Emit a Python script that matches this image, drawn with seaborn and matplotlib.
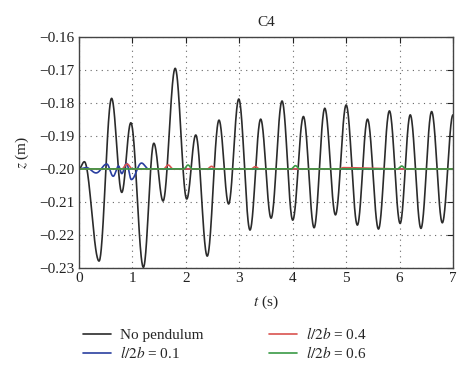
import numpy as np
import pandas as pd
import matplotlib
matplotlib.use("Agg")
import matplotlib.pyplot as plt
import seaborn as sns

# ---- data (key points: times of extrema and their z values) ----
t_none = [0.0, 0.10, 0.375, 0.61, 0.80, 0.97, 1.205, 1.40, 1.573, 1.80, 2.016, 2.185,
          2.40, 2.62, 2.80, 2.99, 3.20, 3.40, 3.595, 3.80, 4.00, 4.20, 4.40, 4.60,
          4.80, 5.00, 5.21, 5.40, 5.605, 5.81, 6.01, 6.20, 6.40, 6.60, 6.80, 7.00]
z_none = [-0.2000, -0.1978, -0.2279, -0.1786, -0.2071, -0.1860, -0.2298, -0.1922,
          -0.2097, -0.1695, -0.2091, -0.1897, -0.2264, -0.1852, -0.2106, -0.1788,
          -0.2185, -0.1849, -0.2149, -0.1794, -0.2155, -0.1841, -0.2178, -0.1816,
          -0.2139, -0.1806, -0.2170, -0.1849, -0.2182, -0.1824, -0.2165, -0.1836,
          -0.2180, -0.1826, -0.2163, -0.1836]

t_01 = [0.0, 0.14, 0.32, 0.52, 0.64, 0.74, 0.80, 0.89, 0.98, 1.17, 1.30, 7.0]
z_01 = [-0.2000, -0.1996, -0.2012, -0.1985, -0.2022, -0.1991, -0.2014, -0.1983,
        -0.2032, -0.1982, -0.2000, -0.2000]

t_04 = [0.0, 0.80, 0.90, 1.00, 1.58, 1.67, 1.76, 2.40, 2.48, 2.56, 3.22, 3.30, 3.38,
        4.86, 4.95, 5.60, 6.00, 7.0]
z_04 = [-0.2000, -0.2000, -0.1985, -0.2000, -0.2000, -0.1988, -0.2000, -0.2000,
        -0.1992, -0.2000, -0.2000, -0.1993, -0.2000, -0.2000, -0.1996, -0.1998,
        -0.2000, -0.2000]

t_06 = [0.0, 1.96, 2.04, 2.12, 3.97, 4.05, 4.13, 5.96, 6.04, 6.12, 7.0]
z_06 = [-0.2000, -0.2000, -0.1988, -0.2000, -0.2000, -0.1990, -0.2000, -0.2000,
        -0.1991, -0.2000, -0.2000]

labels = ["No pendulum", r"$l/2b$ = 0.1", r"$l/2b$ = 0.4", r"$l/2b$ = 0.6"]
colors = ["#2b2b2b", "#2a3fa0", "#d9534f", "#3a9a45"]
x_ticks = [0, 1, 2, 3, 4, 5, 6, 7]
y_ticks = [-0.16, -0.17, -0.18, -0.19, -0.20, -0.21, -0.22, -0.23]


def smooth(tk, zk, n=40):
    ts, zs = [], []
    for i in range(len(tk) - 1):
        s = np.linspace(0, 1, n, endpoint=False)
        ts.append(tk[i] + (tk[i + 1] - tk[i]) * s)
        zs.append(zk[i] + (zk[i + 1] - zk[i]) * (1 - np.cos(np.pi * s)) / 2)
    ts.append([tk[-1]]); zs.append([zk[-1]])
    return np.concatenate(ts), np.concatenate(zs)


frames = []
for (tk, zk), lab in zip([(t_none, z_none), (t_01, z_01), (t_04, z_04), (t_06, z_06)], labels):
    tt, zz = smooth(tk, zk)
    frames.append(pd.DataFrame({"t": tt, "z": zz, "series": lab}))
df = pd.concat(frames, ignore_index=True)

sns.set_style("white")
plt.rcParams["font.family"] = ["Liberation Serif", "DejaVu Serif"]
plt.rcParams["mathtext.fontset"] = "stix"

fs = 11
fig = plt.figure(figsize=(4.74, 3.79), dpi=100)
ax = fig.add_axes([0.1667, 0.2929, 0.7890, 0.6095])

sns.lineplot(data=df, x="t", y="z", hue="series", hue_order=labels,
             palette=dict(zip(labels, colors)), sort=False, estimator=None,
             linewidth=1.2, ax=ax)

ax.set_xlim(0, 7)
ax.set_ylim(-0.23, -0.16)
ax.set_xticks(x_ticks)
ax.set_yticks(y_ticks)
ax.set_yticklabels([f"\u2212{abs(v):.2f}" for v in y_ticks])
ax.grid(True, linestyle=(0, (1, 4)), color="#666666", linewidth=0.8)
ax.tick_params(direction="in", top=True, right=True, length=4, labelsize=fs,
               colors="#222222", pad=3)
for sp in ax.spines.values():
    sp.set_color("#444444")
    sp.set_linewidth(1.0)

ax.set_title("C4", fontsize=fs, pad=8)
ax.set_xlabel(r"$t$ (s)", fontsize=fs, labelpad=6)
ax.set_ylabel(r"$z$ (m)", fontsize=fs, labelpad=6)

handles, labs = ax.get_legend_handles_labels()
ax.legend(handles, labs, ncol=2, loc="upper left", bbox_to_anchor=(-0.005, -0.225),
          frameon=False, fontsize=fs, handlelength=1.8, columnspacing=4.3,
          labelspacing=0.2, handletextpad=0.6, borderaxespad=0)

fig.savefig("out.png", dpi=100)
